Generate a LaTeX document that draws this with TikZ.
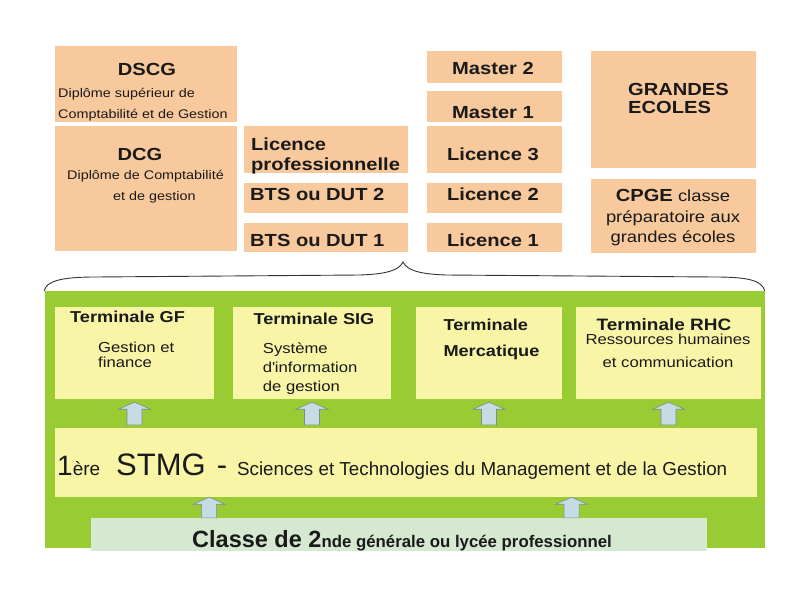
\documentclass[tikz,border=0pt]{standalone}
\usepackage{fontspec}
\setmainfont{Liberation Sans}
\newfontfamily\widesans{Liberation Sans}[FakeStretch=1.15]
\usepackage{tikz}
\usetikzlibrary{calc}
\definecolor{BoxOrange}{HTML}{F8C99C}
\definecolor{FieldGreen}{HTML}{99CC33}
\definecolor{BoxYellow}{HTML}{F9F5A7}
\definecolor{BandMint}{HTML}{D4E9D0}
\definecolor{ArrowBlue}{HTML}{C6DBE4}
\definecolor{ArrowEdge}{HTML}{7F8C8D}
\definecolor{InkDark}{HTML}{1A1A1A}

% block arrow pointing up: #1 foot, #2 tip
\newcommand{\fatup}[2]{%
  \draw[fatarr] let \p1=(#1), \p2=(#2) in
    (\x1-7.5pt,\y1) -- (\x1-7.5pt,\y2-7pt) -- (\x1-16pt,\y2-7pt) -- (\x1,\y2)
    -- (\x1+16pt,\y2-7pt) -- (\x1+7.5pt,\y2-7pt) -- (\x1+7.5pt,\y1) -- cycle;}

\begin{document}
\begin{tikzpicture}[x=1pt, y=-1pt,
  obox/.style={fill=BoxOrange, inner sep=0pt},
  ybox/.style={fill=BoxYellow, inner sep=0pt},
  txt/.style={inner sep=0pt, text=InkDark},
  bigbf/.style={font=\widesans\fontsize{17.5}{19.3}\selectfont\bfseries},
  smalltx/.style={font=\widesans\fontsize{12.5}{20.5}\selectfont},
  termbf/.style={font=\widesans\fontsize{15.8}{26}\selectfont\bfseries},
  subtx/.style={font=\widesans\fontsize{14.5}{19}\selectfont},
  fatarr/.style={fill=ArrowBlue, draw=ArrowEdge, line width=0.6pt, line join=miter},
  bracestroke/.style={draw=black!80, line width=0.9pt}]
\useasboundingbox (0,0) rectangle (806,592);

% diplomas above
\node[obox, minimum width=182pt, minimum height=76pt] (dscg) at (146,84) {};
\node[obox, minimum width=182pt, minimum height=125pt] (dcg) at (146,188.5) {};
\node[obox, minimum width=164pt, minimum height=47pt] (lpro) at (326,149.5) {};
\node[obox, minimum width=164pt, minimum height=30pt] (bts2) at (326,198) {};
\node[obox, minimum width=164pt, minimum height=29pt] (bts1) at (326,237.5) {};
\node[obox, minimum width=135pt, minimum height=32pt] (m2) at (494.5,67) {};
\node[obox, minimum width=135pt, minimum height=31pt] (m1) at (494.5,106.5) {};
\node[obox, minimum width=135pt, minimum height=47pt] (l3) at (494.5,149.5) {};
\node[obox, minimum width=135pt, minimum height=30pt] (l2) at (494.5,198) {};
\node[obox, minimum width=135pt, minimum height=29pt] (l1) at (494.5,237.5) {};
\node[obox, minimum width=165pt, minimum height=117pt] (ge) at (673.5,109.5) {};
\node[obox, minimum width=165pt, minimum height=74pt] (cpge) at (673.5,216) {};

\node[txt, bigbf, anchor=base] (dscgt) at (147,75) {DSCG};
\node[txt, smalltx, anchor=base west, align=left] (dscgs) at (58,118) {Diplôme supérieur de\\Comptabilité et de Gestion};
\node[txt, bigbf, anchor=base] (dcgt) at (140,160.7) {DCG};
\node[txt, smalltx, anchor=base west, align=left] (dcgs) at (67,200) {Diplôme de Comptabilité\\\hspace*{46pt}et de gestion};
\node[txt, bigbf, anchor=base west, align=left] (lprot) at (251,170) {Licence\\professionnelle};
\node[txt, bigbf, anchor=base west] (bts2t) at (250,200) {BTS ou DUT 2};
\node[txt, bigbf, anchor=base west] (bts1t) at (250,246.7) {BTS ou DUT 1};
\node[txt, bigbf, anchor=base] (m2t) at (493,74.3) {Master 2};
\node[txt, bigbf, anchor=base] (m1t) at (493,118.3) {Master 1};
\node[txt, bigbf, anchor=base] (l3t) at (493,160) {Licence 3};
\node[txt, bigbf, anchor=base] (l2t) at (493,200) {Licence 2};
\node[txt, bigbf, anchor=base] (l1t) at (493,246.7) {Licence 1};
\node[txt, bigbf, anchor=base west, align=left, font=\widesans\fontsize{17.5}{18.3}\selectfont\bfseries] (get) at (628,113.3) {GRANDES\\ECOLES};
\node[txt, anchor=base, align=center, font=\widesans\fontsize{16}{20.5}\selectfont] (cpget) at (673,242.7) {{\bfseries\fontsize{17.5}{20.5}\selectfont CPGE} classe\\préparatoire aux\\grandes écoles};

% brace
\node[fill=FieldGreen, minimum width=720pt, minimum height=257pt, inner sep=0pt] (field) at (404.5,419.5) {};
\draw[bracestroke] (field.north west) .. controls (46,281) and (62,277) .. (95,277) -- (360,275)
  .. controls (388,274) and (399,270) .. (403,262)
  .. controls (407,270) and (418,274) .. (446,275) -- (715,277)
  .. controls (750,277) and (762,281) .. (field.north east);

% terminales
\node[ybox, minimum width=159pt, minimum height=92pt] (gf) at (134.5,353) {};
\node[ybox, minimum width=158pt, minimum height=92pt] (sig) at (312,353) {};
\node[ybox, minimum width=146pt, minimum height=92pt] (merc) at (489,353) {};
\node[ybox, minimum width=185pt, minimum height=92pt] (rhc) at (668.5,353) {};
\node[ybox, minimum width=702pt, minimum height=69pt] (stmg) at (406,462.5) {};
\node[fill=BandMint, inner sep=0pt, minimum width=616pt, minimum height=33pt] (classe) at (399,534.5) {};

\node[txt, termbf, anchor=base west] (gft) at (70,322.7) {Terminale GF};
\node[txt, subtx, anchor=base west, align=left, font=\widesans\fontsize{14.5}{14.6}\selectfont] (gfs) at (98,367.3) {Gestion et\\finance};
\node[txt, termbf, anchor=base west] (sigt) at (253.3,324) {Terminale SIG};
\node[txt, subtx, anchor=base west, align=left] (sigs) at (262.7,391.7) {Système\\d\textquotesingle information\\de gestion};
\node[txt, termbf, anchor=base west, align=left] (merct) at (443.3,356) {Terminale\\Mercatique};
\node[txt, anchor=base, font=\widesans\fontsize{16.5}{20}\selectfont\bfseries] (rhct) at (664,330) {Terminale RHC};
\node[txt, subtx, anchor=base, align=center, font=\widesans\fontsize{14.5}{23.4}\selectfont] (rhcs) at (668,367.7) {Ressources humaines\\et communication};

\node[txt, anchor=base west] (stmgt) at (57,475) {{\fontsize{28}{30}\selectfont 1}{\fontsize{19}{20}\selectfont ère}\hspace{16pt}{\fontsize{31}{32}\selectfont STMG\hspace{11pt}-}\hspace{10pt}{\fontsize{18.8}{20}\selectfont Sciences et Technologies du Management et de la Gestion}};
\node[txt, anchor=base west, font=\bfseries] (classet) at (192,547) {{\fontsize{23.5}{26}\selectfont Classe de 2}{\fontsize{16.8}{18}\selectfont nde générale ou lycée professionnel}};

% arrows
\coordinate[yshift=3pt] (gffoot) at (gf.south |- stmg.north);
\coordinate[yshift=-3pt] (gftip) at (gf.south);
\coordinate[yshift=3pt] (sigfoot) at (sig.south |- stmg.north);
\coordinate[yshift=-3pt] (sigtip) at (sig.south);
\coordinate[yshift=3pt] (mercfoot) at (merc.south |- stmg.north);
\coordinate[yshift=-3pt] (merctip) at (merc.south);
\coordinate[yshift=3pt] (rhcfoot) at (rhc.south |- stmg.north);
\coordinate[yshift=-3pt] (rhctip) at (rhc.south);
\fatup{gffoot}{gftip}
\fatup{sigfoot}{sigtip}
\fatup{mercfoot}{merctip}
\fatup{rhcfoot}{rhctip}
\coordinate (lowfoota) at ($(classe.north west)!0.192!(classe.north east)$);
\coordinate (lowtipa) at (lowfoota |- stmg.south);
\coordinate (lowfootb) at ($(classe.north west)!0.78!(classe.north east)$);
\coordinate (lowtipb) at (lowfootb |- stmg.south);
\fatup{lowfoota}{lowtipa}
\fatup{lowfootb}{lowtipb}
\end{tikzpicture}
\end{document}
